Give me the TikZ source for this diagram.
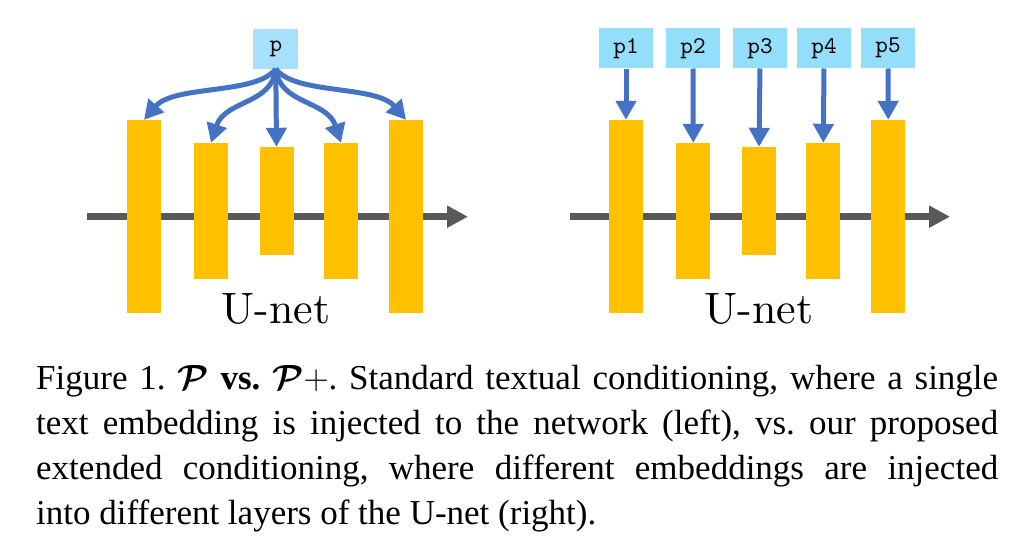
\RequirePackage{fix-cm}
\documentclass[tikz,border=0pt]{standalone}
\usepackage{amsmath}
\usepackage{fontspec}
\usetikzlibrary{arrows.meta}
\newfontfamily\capfont{Liberation Serif}
\definecolor{layerc}{HTML}{FFC000}
\definecolor{injectc}{HTML}{4472C4}
\definecolor{flowc}{HTML}{595959}
\definecolor{promptl}{HTML}{A6E0FA}
\definecolor{promptr}{HTML}{93DFFB}
\newcommand{\ptag}[1]{\scalebox{2.4}{\fontsize{10}{10}\ttfamily #1}}

\begin{document}
\begin{tikzpicture}[x=1pt, y=-1pt,
  layer/.style={fill=layerc, inner sep=0, minimum width=34pt},
  tall/.style={layer, minimum height=193pt},
  mid/.style={layer, minimum height=136pt},
  short/.style={layer, minimum height=108pt},
  prompt/.style={inner sep=0, minimum height=40pt},
  inj/.style={-{Triangle[width=20pt,length=19pt]}, line width=5pt, injectc},
  flow/.style={-{Triangle[width=21pt,length=21pt]}, line width=7pt, flowc},
  unet/.style={anchor=base, inner sep=0}]
\useasboundingbox (0, 0) rectangle (1013, 541);

% left: one embedding for all layers
\coordinate (La) at (87, 216.7);
\coordinate (Lb) at (468, 216.7);
\draw [flow] (La) -- (Lb);

\node [tall] (L1) at (144, 216.5) {};
\node [mid] (L2) at (211, 211) {};
\node [short] (L3) at (276.5, 201) {};
\node [mid] (L4) at (341, 211) {};
\node [tall] (L5) at (406, 216.5) {};

\node [prompt, fill=promptl, minimum width=45pt] (p) at (275.8, 48.7) {\ptag{p}};

\draw [inj] (p.south) .. controls +(-19, 26) and +(30, -35) .. (L1.north);
\draw [inj] (p.south) .. controls +(-4, 36) and +(14, -43) .. (L2.north);
\draw [inj] (p.south) -- (L3.north);
\draw [inj] (p.south) .. controls +(4, 36) and +(-14, -43) .. (L4.north);
\draw [inj] (p.south) .. controls +(19, 26) and +(-30, -35) .. (L5.north);

\node [unet] (uL) at (276, 323) {\scalebox{4.4}{\fontsize{10}{10}\selectfont U-net}};

% right: one embedding per layer
\coordinate (Ra) at (570, 216.7);
\coordinate (Rb) at (950, 216.7);
\draw [flow] (Ra) -- (Rb);

\node [tall] (R1) at (626, 216.5) {};
\node [mid] (R2) at (693.3, 211) {};
\node [short] (R3) at (759, 201) {};
\node [mid] (R4) at (823.3, 211) {};
\node [tall] (R5) at (888.3, 216.5) {};

\node [prompt, fill=promptr, minimum width=54pt] (p1) at (626, 48.3) {\ptag{p1}};
\node [prompt, fill=promptr, minimum width=54pt] (p2) at (693, 48.3) {\ptag{p2}};
\node [prompt, fill=promptr, minimum width=54pt] (p3) at (760, 48.3) {\ptag{p3}};
\node [prompt, fill=promptr, minimum width=54pt] (p4) at (824, 48.3) {\ptag{p4}};
\node [prompt, fill=promptr, minimum width=54pt] (p5) at (888, 48.3) {\ptag{p5}};

\draw [inj] (p1.south) -- (R1.north);
\draw [inj] (p2.south) -- (R2.north);
\draw [inj] (p3.south) -- (R3.north);
\draw [inj] (p4.south) -- (R4.north);
\draw [inj] (p5.south) -- (R5.north);

\node [unet] (uR) at (759, 323) {\scalebox{4.4}{\fontsize{10}{10}\selectfont U-net}};

% caption
\node [anchor=base west, inner sep=0, text width=962pt, align=justify,
  font=\capfont\fontsize{35}{45}\selectfont\frenchspacing] (cap) at (36, 389.3)
  {Figure 1. $\boldsymbol{\mathcal{P}}$ \textbf{vs.} $\boldsymbol{\mathcal{P}}+$. Standard textual conditioning, where a single\linebreak
  text embedding is injected to the network (left), vs. our proposed\linebreak
  extended conditioning, where different embeddings are injected\linebreak
  into different layers of the U-net (right).};
\end{tikzpicture}
\end{document}
